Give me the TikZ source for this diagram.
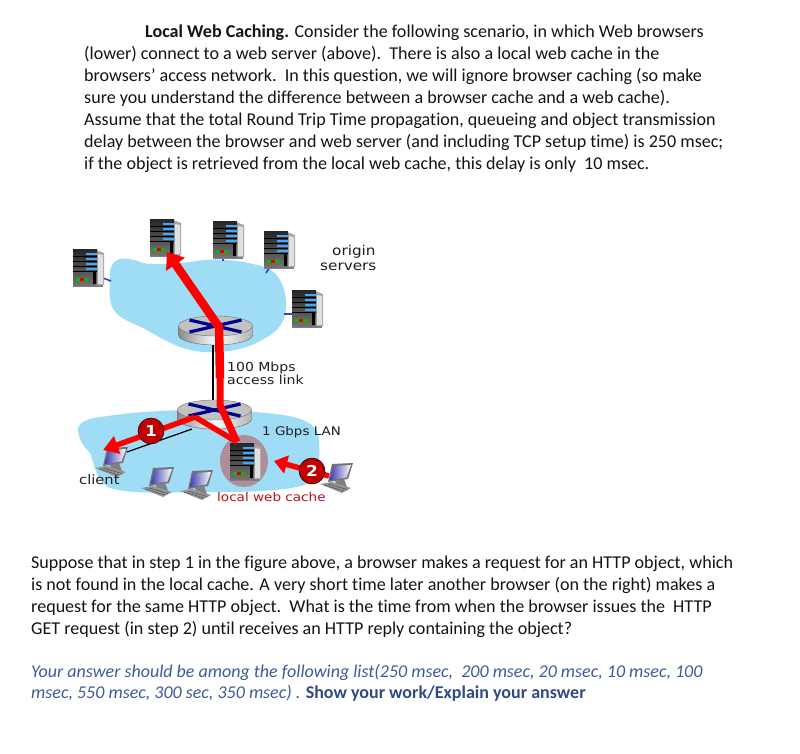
\documentclass[tikz,border=0pt]{standalone}
\usepackage{fontspec}
\setmainfont[Ligatures={NoCommon}]{Carlito}
\newfontfamily\figfont[FakeStretch=1.13]{DejaVu Sans}
\usetikzlibrary{arrows.meta,calc}
\definecolor{cloudblue}{HTML}{9FDCF6}
\definecolor{qblue}{HTML}{3E5C9A}
\definecolor{qbold}{HTML}{2F4B85}
\definecolor{cacheblob}{HTML}{AE8E9B}
\definecolor{badge}{HTML}{C00000}
\definecolor{linkblue}{HTML}{3A3AD8}
\definecolor{cachered}{HTML}{C0101A}
\tikzset{
 x=1pt,y=-1pt,
 body/.style={font=\fontsize{18.07}{20}\selectfont,anchor=base west,inner sep=0pt,text=black!92},
 answer/.style={body,font=\fontsize{18}{20}\selectfont,text=qblue},
 figlabel/.style={font=\figfont\fontsize{12.4}{14}\selectfont,anchor=base west,inner sep=0pt,text=black!88},
 rednet/.style={draw=red,line width=8.5pt,line join=miter},
 redreq/.style={draw=red,line width=5.5pt,line join=miter},
 badgecirc/.style={circle,fill=badge,draw=black,line width=.5pt,minimum size=26pt,inner sep=0pt,text=white,font=\figfont\bfseries\fontsize{15}{15}\selectfont},
 stub/.style={draw=linkblue,line width=1.6pt},
 server/.pic={
  \fill[black!35] (23,1) -- (31,4) -- (31,36) -- (23,37) -- cycle;
  \fill[black!12] (25,5) -- (30,6) -- (30,35) -- (25,35) -- cycle;
  \fill[black!50] (0,36) rectangle (30,37.5);
  \shade[top color=black!85,bottom color=black!55] (0,0) rectangle (24,36);
  \foreach \yy in {7,12,17,22}{
   \draw[black,line width=.8pt] (0,\yy) -- (24,\yy);
   \fill[blue!45!cyan!75] (13,\yy-3) rectangle (24,\yy-1);
  }
  \fill[black] (20,22) rectangle (23,35);
  \fill[green!75!black] (3,29) rectangle (6.5,32);
  \fill[red!90!black] (7,29) rectangle (10.5,32);
  \fill[green!75!black] (11,29) rectangle (14.5,32);
 },
 laptop/.pic={
  \fill[black!55] (12,1) -- (33,0) -- (28,16) -- (8,19) -- cycle;
  \shade[left color=blue!60!black!75,right color=white] (13.5,3) -- (31,2) -- (26.5,14.5) -- (10,17) -- cycle;
  \fill[black!50] (15,18) -- (24,16) -- (27,24) -- (17,23) -- cycle;
  \fill[black!42] (0,21) -- (12,19) -- (31,25) -- (22,30) -- cycle;
  \draw[black!75,line width=.4pt] (4,22) -- (24,28) (8,21) -- (27,26.5);
 },
}
\newcommand{\routerdraw}[2]{%
 \begin{scope}[shift={(#1,#2)}]
  \path[left color=black!45,right color=black!30,middle color=white,draw=black!60,line width=.4pt]
    (-37,0) -- (-37,9) arc[start angle=180,end angle=0,x radius=37,y radius=10]
    -- (37,0) -- cycle;
  \fill[black!24,draw=black!55,line width=.4pt] (0,0) ellipse[x radius=37,y radius=10];
  \draw[draw=blue!55!black,line width=3.2pt] (-26,6) -- (26,-6);
  \draw[draw=blue!55!black,line width=3.2pt] (-26,-6) -- (26,6);
 \end{scope}}
\begin{document}
\begin{tikzpicture}
\useasboundingbox (0,0) rectangle (800,753);
\fill[white] (0,0) rectangle (800,753);
% text
\node[body] (t1) at (145,37) {\textbf{Local Web Caching.} Consider the following scenario, in which Web browsers};
\node[body] (t2) at (84,59) {(lower) connect to a web server (above).\ \ There is also a local web cache in the};
\node[body] (t3) at (84,81) {browsers\symbol{39} access network.\ \ In this question, we will ignore browser caching (so make};
\node[body] (t4) at (84,103) {sure you understand the difference between a browser cache and a web cache).};
\node[body] (t5) at (84,125) {Assume that the total Round Trip Time propagation, queueing and object transmission};
\node[body] (t6) at (84,147) {delay between the browser and web server (and including TCP setup time) is 250 msec;};
\node[body] (t7) at (84,169) {if the object is retrieved from the local web cache, this delay is only\ \ 10 msec.};
\node[body] (p1) at (31,568) {Suppose that in step 1 in the figure above, a browser makes a request for an HTTP object, which};
\node[body] (p2) at (31,590) {is not found in the local cache. A very short time later another browser (on the right) makes a};
\node[body] (p3) at (31,612) {request for the same HTTP object.\ \ What is the time from when the browser issues the\ \ HTTP};
\node[body] (p4) at (31,634) {GET request (in step 2) until receives an HTTP reply containing the object?};
\node[answer] (a1) at (31,677) {\itshape Your answer should be among the following list(250 msec,\ \ 200 msec, 20 msec, 10 msec, 100};
\node[answer] (a2) at (31,698) {\itshape msec, 550 msec, 300 sec, 350 msec) . \upshape\bfseries\color{qbold}Show your work/Explain your answer};
% clouds
\fill[cloudblue] (110,272) .. controls (112,256) and (125,256) .. (143,263)
 .. controls (160,266) and (185,263) .. (203,260)
 .. controls (225,258) and (250,262) .. (267,268)
 .. controls (280,273) and (286,290) .. (286,303)
 .. controls (286,322) and (280,330) .. (262,340)
 .. controls (245,350) and (225,353) .. (203,352)
 .. controls (180,350) and (165,340) .. (150,332)
 .. controls (135,322) and (120,322) .. (112,307)
 .. controls (108,296) and (110,285) .. (110,272) -- cycle;
\fill[cloudblue] (78,428) .. controls (82,418) and (95,418) .. (115,415)
 .. controls (150,410) and (215,408) .. (255,412)
 .. controls (290,415) and (318,418) .. (319,440)
 .. controls (320,460) and (320,478) .. (305,485)
 .. controls (280,492) and (240,492) .. (210,492)
 .. controls (170,492) and (135,495) .. (110,488)
 .. controls (95,480) and (95,465) .. (90,453)
 .. controls (83,445) and (78,440) .. (78,428) -- cycle;
% stubs
\coordinate (l0) at (103,278); \coordinate (c0) at (111,281);
\coordinate (l1) at (172,256); \coordinate (c1) at (174,265);
\coordinate (l2) at (223,257); \coordinate (c2) at (223,261);
\coordinate (l3) at (270,267); \coordinate (c3) at (266,273);
\coordinate (l4) at (293,314); \coordinate (c4) at (284,314);
\draw[stub] (l0) -- (c0); \draw[stub] (l1) -- (c1); \draw[stub] (l2) -- (c2); \draw[stub] (l3) -- (c3); \draw[stub] (l4) -- (c4);
% servers
\pic at (73,249) {server};
\pic at (150,219) {server};
\pic at (213,221) {server};
\pic at (264,231) {server};
\pic at (292,290) {server};
% link and routers
\coordinate (blt) at (213,345);
\coordinate (blb) at (213,402);
\draw[black,line width=1.6pt] (blt) -- (blb);
\routerdraw{215.5}{326}
\routerdraw{214.5}{410}
% cache
\fill[cacheblob] (244,461) ellipse[x radius=24,y radius=26];
\coordinate (cachetop) at (237,442);
\coordinate (blr) at (192,429);
\coordinate (bll) at (127,452);
\draw[black,line width=1.2pt] (blr) -- (bll);
\pic at (230,443) {server};
% laptops
\pic at (95,447) {laptop};
\pic at (141,467) {laptop};
\pic at (180,470) {laptop};
\pic at (320,463) {laptop};
% red paths
\coordinate (s1tip) at (167,252);
\coordinate (bend1) at (219,327);
\coordinate (bend2) at (220,405);
\coordinate (bend3) at (195,417);
\coordinate (cltip) at (103,450);
\draw[redreq] (cachetop) -- (bend3);
\draw[rednet,line width=7pt] (cachetop) -- (bend2) -- (220,378);
\draw[rednet,-{Triangle[length=15pt,width=22pt]}] (220,378) -- (bend1) -- (s1tip);
\draw[redreq,-{Triangle[length=15pt,width=18pt]}] (bend3) -- (cltip);
\node[badgecirc] (b1) at (151,431) {1};
\coordinate (lap2) at (329,476);
\coordinate (cacheR) at (274,461);
\draw[redreq,-{Triangle[length=13pt,width=18pt]}] (lap2) -- (cacheR);
\node[badgecirc] (b2) at (312,471) {2};
% labels
\node[figlabel,font=\figfont\fontsize{13.5}{16}\selectfont] (o1) at (332,255) {origin};
\node[figlabel,font=\figfont\fontsize{13.5}{16}\selectfont] (o2) at (320,270) {servers};
\node[figlabel] (m1) at (227,371) {100 Mbps};
\node[figlabel] (m2) at (227,384) {access link};
\node[figlabel,font=\figfont\fontsize{11.9}{14}\selectfont] (g1) at (262,435) {1 Gbps LAN};
\node[figlabel,font=\figfont\fontsize{13}{14}\selectfont] (cl) at (79,484) {client};
\node[figlabel,font=\figfont\fontsize{12}{14}\selectfont,text=cachered] (lc) at (217,501) {local web cache};
\end{tikzpicture}
\end{document}
